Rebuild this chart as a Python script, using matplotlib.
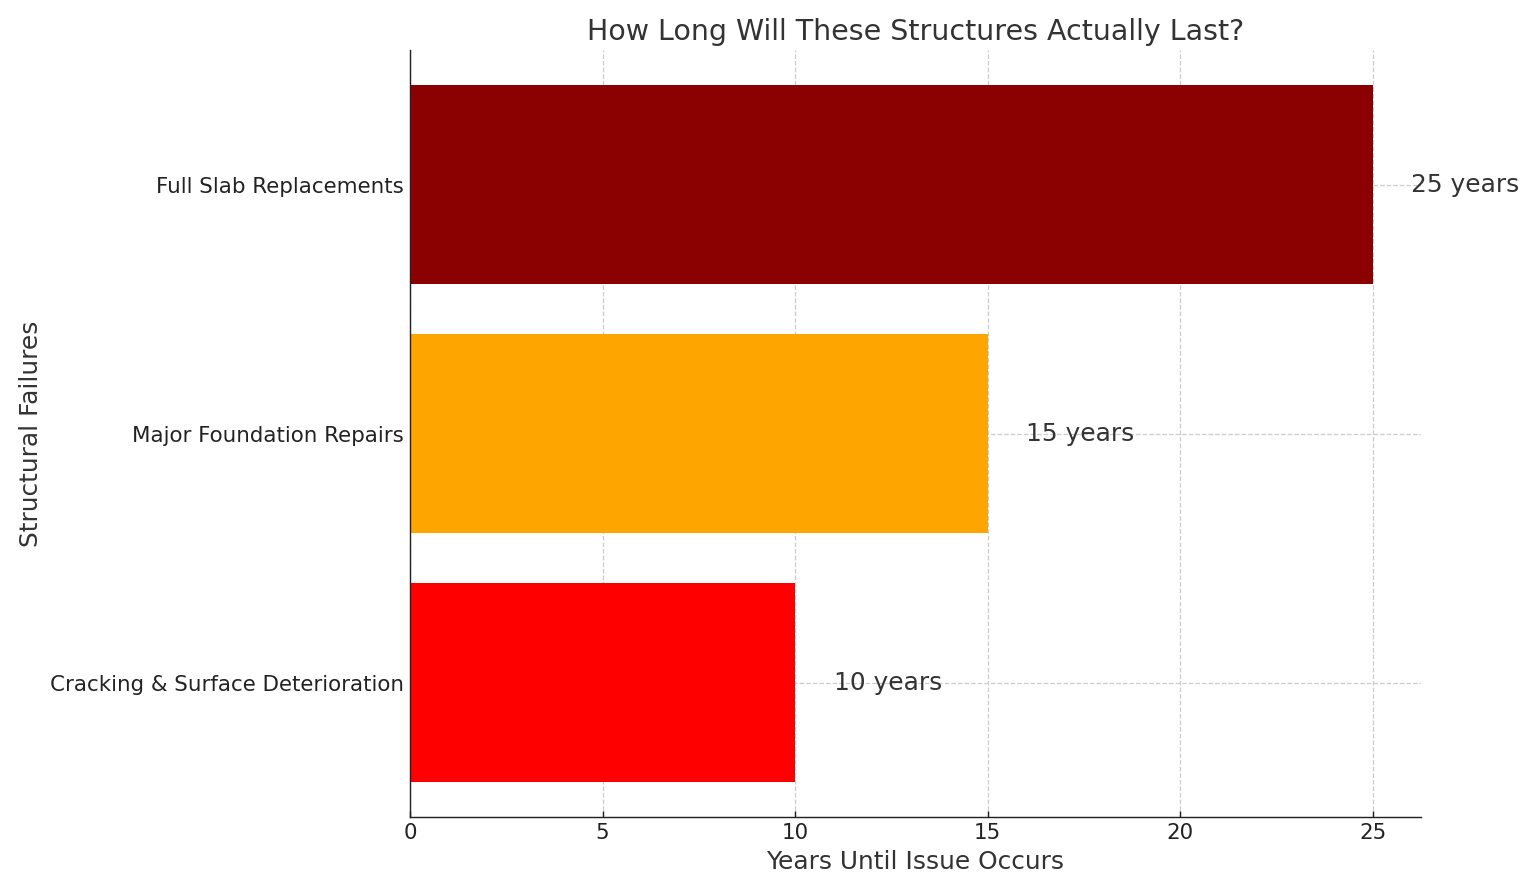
import matplotlib
matplotlib.use("Agg")
import matplotlib.pyplot as plt

# data
failures = ["Cracking & Surface Deterioration", "Major Foundation Repairs", "Full Slab Replacements"]
years = [10, 15, 25]
colors = ["red", "orange", "darkred"]

fig, ax = plt.subplots(figsize=(12, 7), dpi=128)
fig.subplots_adjust(left=0.267, right=0.925, top=0.944, bottom=0.088)

bars = ax.barh(failures, years, color=colors, height=0.8, zorder=2)

# value labels to the right of bars
for b, v in zip(bars, years):
    ax.text(v + 1, b.get_y() + b.get_height() / 2, f"{v} years",
            va="center", ha="left", fontsize=14, color="#333333")

ax.set_title("How Long Will These Structures Actually Last?", fontsize=16, color="#333333")
ax.set_xlabel("Years Until Issue Occurs", fontsize=14, color="#333333")
ax.set_ylabel("Structural Failures", fontsize=14, color="#333333")
ax.tick_params(labelsize=12, colors="#222222", direction="in")
ax.grid(True, linestyle="--", color="#cccccc", linewidth=0.7, zorder=3)
ax.spines["top"].set_visible(False)
ax.spines["right"].set_visible(False)
for s in ("left", "bottom"):
    ax.spines[s].set_color("#222222")
    ax.spines[s].set_zorder(4)

plt.savefig("out.png", dpi=128)
